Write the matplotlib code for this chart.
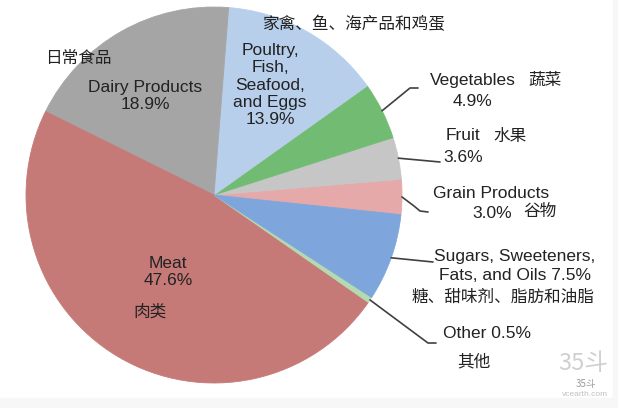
import numpy as np
import matplotlib
matplotlib.use("Agg")
import matplotlib.pyplot as plt
from matplotlib.patches import Rectangle

# food groups, counter-clockwise from just below 3 o'clock
groups = ['Grain Products', 'Fruit', 'Vegetables', 'Poultry, Fish, Seafood, and Eggs',
          'Dairy Products', 'Meat', 'Other', 'Sugars, Sweeteners, Fats, and Oils']
groups_cn = ['谷物', '水果', '蔬菜', '家禽、鱼、海产品和鸡蛋',
             '日常食品', '肉类', '其他', '糖、甜味剂、脂肪和油脂']
shares = [3.0, 3.6, 4.9, 13.9, 18.9, 47.6, 0.5, 7.5]
colors = ['#e6a9a9', '#c6c6c6', '#72bb72', '#b8cfeb',
          '#a5a5a5', '#c67a78', '#b5d9b0', '#7ea6dc']

LAT = ['Liberation Sans', 'Noto Sans CJK SC', 'DejaVu Sans']
CJK = ['Noto Sans CJK SC', 'DejaVu Sans']
TXT = '#222222'

fig = plt.figure(figsize=(6.18, 4.08), dpi=100)
ax = fig.add_axes([0, 0, 1, 1])

cx, cy, R = 214, 195, 188
# y axis runs downward (pixel-like), so draw clockwise in data to look counter-clockwise
wedges, _ = ax.pie(shares, colors=colors, startangle=6, counterclock=False,
                   center=(cx, cy), radius=R, wedgeprops=dict(linewidth=0.6))
for w in wedges:
    w.set_edgecolor(w.get_facecolor())  # hide the white seams between slices
ax.set_xlim(0, 618)
ax.set_ylim(408, 0)
ax.set_aspect('equal')
ax.axis('off')

def pct(i):
    return '%.1f%%' % shares[i]

def edge_point(i):
    w = wedges[i]
    th = np.deg2rad((w.theta1 + w.theta2) / 2)
    return cx + R * np.cos(th), cy + R * np.sin(th)

# labels inside the big slices
ax.text(270, 85, 'Poultry,\nFish,\nSeafood,\nand Eggs\n' + pct(3), ha='center', va='center',
        fontsize=12.5, family=LAT, color=TXT, linespacing=1.2)
ax.text(145, 96, 'Dairy Products\n' + pct(4), ha='center', va='center',
        fontsize=12.5, family=LAT, color=TXT, linespacing=1.2)
ax.text(168, 272, 'Meat\n' + pct(5), ha='center', va='center',
        fontsize=12.5, family=LAT, color=TXT, linespacing=1.2)

# chinese captions
ax.text(263, 25, groups_cn[3], ha='left', va='center', fontsize=12, family=CJK, color=TXT)
ax.text(45, 58, groups_cn[4], ha='left', va='center', fontsize=12, family=CJK, color=TXT)
ax.text(133, 312, groups_cn[5], ha='left', va='center', fontsize=12, family=CJK, color=TXT)

# outside labels
ax.text(430, 80, 'Vegetables', ha='left', va='center', fontsize=12.5, family=LAT, color=TXT)
ax.text(528, 80, groups_cn[2], ha='left', va='center', fontsize=12, family=CJK, color=TXT)
ax.text(453, 102, pct(2), ha='left', va='center', fontsize=12.5, family=LAT, color=TXT)

ax.text(446, 136, 'Fruit', ha='left', va='center', fontsize=12.5, family=LAT, color=TXT)
ax.text(493, 136, groups_cn[1], ha='left', va='center', fontsize=12, family=CJK, color=TXT)
ax.text(443, 157, pct(1), ha='left', va='center', fontsize=12.5, family=LAT, color=TXT)

ax.text(433, 193, 'Grain Products', ha='left', va='center', fontsize=12.5, family=LAT, color=TXT)
ax.text(472, 213, pct(0), ha='left', va='center', fontsize=12.5, family=LAT, color=TXT)
ax.text(523, 211, groups_cn[0], ha='left', va='center', fontsize=12, family=CJK, color=TXT)

ax.text(434, 256, 'Sugars, Sweeteners,', ha='left', va='center', fontsize=12.5, family=LAT, color=TXT)
ax.text(439, 276, 'Fats, and Oils ' + pct(7), ha='left', va='center', fontsize=12.5, family=LAT, color=TXT)
ax.text(412, 297, groups_cn[7], ha='left', va='center', fontsize=12, family=CJK, color=TXT)

ax.text(443, 334, 'Other ' + pct(6), ha='left', va='center', fontsize=12.5, family=LAT, color=TXT)
ax.text(457, 362, groups_cn[6], ha='left', va='center', fontsize=12, family=CJK, color=TXT)

# leader lines
leaders = {
    2: [(410, 88), (418, 88)],
    1: [(440, 162)],
    0: [(414, 206), (420, 211), (428, 212)],
    7: [(433, 262)],
    6: [(428, 343), (436, 343)],
}
for i, pts in leaders.items():
    x0, y0 = edge_point(i)
    xs = [x0] + [p[0] for p in pts]
    ys = [y0] + [p[1] for p in pts]
    ax.plot(xs, ys, color='#404040', lw=1.2, solid_capstyle='round')

# watermark
ax.text(583, 363, '35斗', ha='center', va='center', fontsize=17, family=CJK, color='#d0d0d0')
ax.text(586, 384, '35斗', ha='center', va='center', fontsize=7, family=CJK, color='#9a9a9a')
ax.text(585, 394, 'vcearth.com', ha='center', va='center', fontsize=6, family=LAT, color='#c0c0c0')

# faint frame of the screenshot
fig.patches.append(Rectangle((0, 0), 1, 10 / 408, transform=fig.transFigure,
                             color='#f7f7f7', zorder=-1))
fig.patches.append(Rectangle((613 / 618, 0), 5 / 618, 1, transform=fig.transFigure,
                             color='#f7f7f7', zorder=-1))

fig.savefig('out.png', dpi=100)
